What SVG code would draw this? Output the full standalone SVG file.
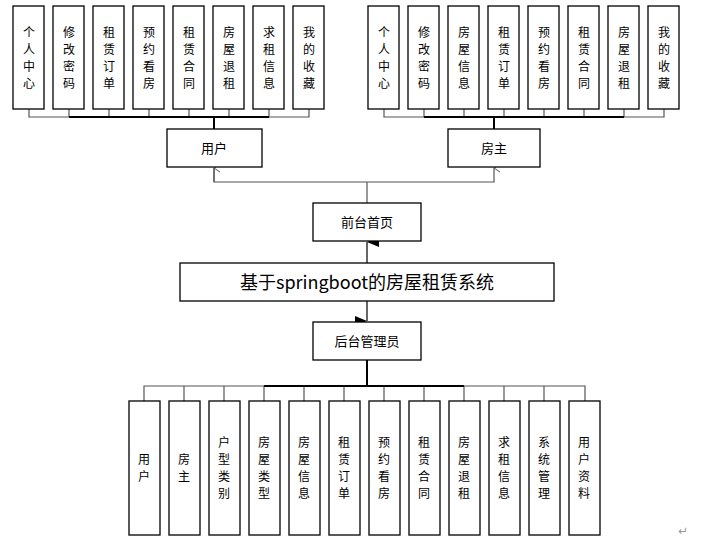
<svg xmlns="http://www.w3.org/2000/svg" width="707" height="540" viewBox="0 0 707 540">
<style>
rect{fill:#fff;stroke:#000;stroke-width:1.3}
text{font-family:"Noto Sans CJK SC","DejaVu Sans",sans-serif;font-size:12px;text-anchor:middle;fill:#000}
.l{font-size:13px}
.t{font-size:18px}
.c{fill:none;stroke:#555;stroke-width:1.2}
.k{fill:none;stroke:#000;stroke-width:2}
</style>
<defs>
<marker id="open" markerWidth="10" markerHeight="8" refX="5" refY="1" orient="auto-start-reverse" markerUnits="userSpaceOnUse" viewBox="0 0 10 8"><path d="M1,7 L5,1 L9,7" fill="none" stroke="#555" stroke-width="1"/></marker>
<marker id="fill" markerWidth="10" markerHeight="12" refX="5" refY="0" orient="auto" markerUnits="userSpaceOnUse" viewBox="0 0 10 12"><path d="M0,12 L5,0 L10,12 Z" fill="#000"/></marker>
</defs>
<g id="connectors">
<path class="c" d="M29,109V117H309V109 M69,109V117 M109,109V117 M149,109V117 M189,109V117 M229,109V117 M269,109V117"/>
<path class="k" d="M69,117H269 M214,117V129"/>
<path class="c" d="M384,109V117H664V109 M424,109V117 M464,109V117 M504,109V117 M544,109V117 M584,109V117 M624,109V117"/>
<path class="k" d="M424,117H624 M494,117V129"/>
<path class="c" d="M367,203V182H214V168 M367,182H494V168" marker-end="url(#open)"/>
<path class="c" d="M214,182V168" marker-end="url(#open)"/>
<line x1="367" y1="263" x2="367" y2="242" stroke="#000" stroke-width="1.2" marker-end="url(#fill)"/>
<line x1="367" y1="301" x2="367" y2="321" stroke="#000" stroke-width="1.2" marker-end="url(#fill)"/>
<path class="k" d="M367,360V386"/>
<path class="c" d="M144,401V386H585V401 M184,386V401 M224,386V401 M264,386V401 M304,386V401 M344,386V401 M384,386V401 M424,386V401 M464,386V401 M504,386V401 M544,386V401"/>
<path class="k" d="M264,386H464"/>
</g>
<g id="u1"><rect x="13" y="6" width="31" height="103"/><text x="29" y="37">个</text><text x="29" y="54">人</text><text x="29" y="71">中</text><text x="29" y="88">心</text></g>
<g id="u2"><rect x="53" y="6" width="31" height="103"/><text x="69" y="37">修</text><text x="69" y="54">改</text><text x="69" y="71">密</text><text x="69" y="88">码</text></g>
<g id="u3"><rect x="93" y="6" width="31" height="103"/><text x="109" y="37">租</text><text x="109" y="54">赁</text><text x="109" y="71">订</text><text x="109" y="88">单</text></g>
<g id="u4"><rect x="133" y="6" width="31" height="103"/><text x="149" y="37">预</text><text x="149" y="54">约</text><text x="149" y="71">看</text><text x="149" y="88">房</text></g>
<g id="u5"><rect x="173" y="6" width="31" height="103"/><text x="189" y="37">租</text><text x="189" y="54">赁</text><text x="189" y="71">合</text><text x="189" y="88">同</text></g>
<g id="u6"><rect x="213" y="6" width="31" height="103"/><text x="229" y="37">房</text><text x="229" y="54">屋</text><text x="229" y="71">退</text><text x="229" y="88">租</text></g>
<g id="u7"><rect x="253" y="6" width="31" height="103"/><text x="269" y="37">求</text><text x="269" y="54">租</text><text x="269" y="71">信</text><text x="269" y="88">息</text></g>
<g id="u8"><rect x="293" y="6" width="31" height="103"/><text x="309" y="37">我</text><text x="309" y="54">的</text><text x="309" y="71">收</text><text x="309" y="88">藏</text></g>
<g id="f1"><rect x="368" y="6" width="31" height="103"/><text x="384" y="37">个</text><text x="384" y="54">人</text><text x="384" y="71">中</text><text x="384" y="88">心</text></g>
<g id="f2"><rect x="408" y="6" width="31" height="103"/><text x="424" y="37">修</text><text x="424" y="54">改</text><text x="424" y="71">密</text><text x="424" y="88">码</text></g>
<g id="f3"><rect x="448" y="6" width="31" height="103"/><text x="464" y="37">房</text><text x="464" y="54">屋</text><text x="464" y="71">信</text><text x="464" y="88">息</text></g>
<g id="f4"><rect x="488" y="6" width="31" height="103"/><text x="504" y="37">租</text><text x="504" y="54">赁</text><text x="504" y="71">订</text><text x="504" y="88">单</text></g>
<g id="f5"><rect x="528" y="6" width="31" height="103"/><text x="544" y="37">预</text><text x="544" y="54">约</text><text x="544" y="71">看</text><text x="544" y="88">房</text></g>
<g id="f6"><rect x="568" y="6" width="31" height="103"/><text x="584" y="37">租</text><text x="584" y="54">赁</text><text x="584" y="71">合</text><text x="584" y="88">同</text></g>
<g id="f7"><rect x="608" y="6" width="31" height="103"/><text x="624" y="37">房</text><text x="624" y="54">屋</text><text x="624" y="71">退</text><text x="624" y="88">租</text></g>
<g id="f8"><rect x="648" y="6" width="31" height="103"/><text x="664" y="37">我</text><text x="664" y="54">的</text><text x="664" y="71">收</text><text x="664" y="88">藏</text></g>
<g id="user"><rect x="167" y="129" width="95" height="38"/><text class="l" x="214" y="153">用户</text></g>
<g id="owner"><rect x="448" y="129" width="92" height="38"/><text class="l" x="494" y="153">房主</text></g>
<g id="front"><rect x="313" y="203" width="108" height="38"/><text class="l" x="367" y="227">前台首页</text></g>
<g id="system"><rect x="180" y="263" width="374" height="38"/><text class="t" x="367" y="289">基于springboot的房屋租赁系统</text></g>
<g id="admin"><rect x="313" y="322" width="108" height="38"/><text class="l" x="367" y="346">后台管理员</text></g>
<g id="a1"><rect x="129" y="401" width="31" height="134"/><text x="144" y="464">用</text><text x="144" y="481">户</text></g>
<g id="a2"><rect x="169" y="401" width="31" height="134"/><text x="184" y="464">房</text><text x="184" y="481">主</text></g>
<g id="a3"><rect x="209" y="401" width="31" height="134"/><text x="224" y="447">户</text><text x="224" y="464">型</text><text x="224" y="481">类</text><text x="224" y="498">别</text></g>
<g id="a4"><rect x="249" y="401" width="31" height="134"/><text x="264" y="447">房</text><text x="264" y="464">屋</text><text x="264" y="481">类</text><text x="264" y="498">型</text></g>
<g id="a5"><rect x="289" y="401" width="31" height="134"/><text x="304" y="447">房</text><text x="304" y="464">屋</text><text x="304" y="481">信</text><text x="304" y="498">息</text></g>
<g id="a6"><rect x="329" y="401" width="31" height="134"/><text x="344" y="447">租</text><text x="344" y="464">赁</text><text x="344" y="481">订</text><text x="344" y="498">单</text></g>
<g id="a7"><rect x="369" y="401" width="31" height="134"/><text x="384" y="447">预</text><text x="384" y="464">约</text><text x="384" y="481">看</text><text x="384" y="498">房</text></g>
<g id="a8"><rect x="409" y="401" width="31" height="134"/><text x="424" y="447">租</text><text x="424" y="464">赁</text><text x="424" y="481">合</text><text x="424" y="498">同</text></g>
<g id="a9"><rect x="449" y="401" width="31" height="134"/><text x="464" y="447">房</text><text x="464" y="464">屋</text><text x="464" y="481">退</text><text x="464" y="498">租</text></g>
<g id="a10"><rect x="489" y="401" width="31" height="134"/><text x="504" y="447">求</text><text x="504" y="464">租</text><text x="504" y="481">信</text><text x="504" y="498">息</text></g>
<g id="a11"><rect x="529" y="401" width="31" height="134"/><text x="544" y="447">系</text><text x="544" y="464">统</text><text x="544" y="481">管</text><text x="544" y="498">理</text></g>
<g id="a12"><rect x="569" y="401" width="31" height="134"/><text x="584" y="447">用</text><text x="584" y="464">户</text><text x="584" y="481">资</text><text x="584" y="498">料</text></g>
<text x="683" y="535" style="fill:#999;font-size:12px">↵</text>
</svg>
